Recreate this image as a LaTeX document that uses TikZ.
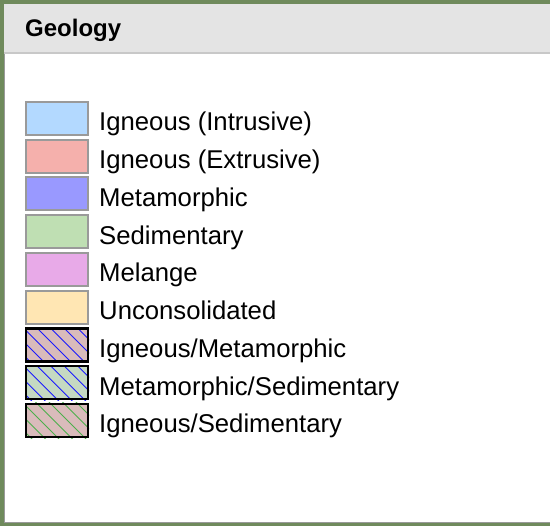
\documentclass[tikz,border=0pt]{standalone}
\usepackage{fontspec}
\setmainfont{Liberation Sans}
\definecolor{mapgreen}{HTML}{6F8A5C}
\definecolor{hdr}{HTML}{E4E4E4}
\definecolor{hdrline}{HTML}{C8C8C8}
\definecolor{swborder}{HTML}{9A9A9A}
\definecolor{cIntr}{HTML}{B3D9FF}
\definecolor{cExtr}{HTML}{F5B0AC}
\definecolor{cMeta}{HTML}{9999FF}
\definecolor{cSed}{HTML}{BFDFB3}
\definecolor{cMel}{HTML}{E8AAE8}
\definecolor{cUnc}{HTML}{FFE6B3}
\definecolor{cPink}{HTML}{D9BBBB}
\definecolor{cGrn}{HTML}{C5D9C2}
\definecolor{hBlue}{HTML}{1A1AFF}
\definecolor{hGreen}{HTML}{4CAF4C}
\usetikzlibrary{calc}
\tikzset{
  x=1pt,y=-1pt,
  swatch/.style={draw=swborder,line width=2pt,minimum width=62pt,minimum height=33pt,inner sep=0pt,anchor=north west},
  hswatch/.style={draw=black,line width=2.2pt,minimum width=62pt,minimum height=33pt,inner sep=0pt,anchor=north west},
  lbl/.style={anchor=base west,inner sep=0pt,font=\fontsize{25.7pt}{28pt}\selectfont},
}
\newcommand{\hatchbox}[4]{% name, top y, fill, line colour
  \node[hswatch,fill=#3] (#1) at (25,#2) {};
  \begin{scope}
    \clip (#1.north west) rectangle (#1.south east);
    \foreach \k in {-3,...,6} {
      \draw[#4,line width=1pt] ($(#1.north west)+(\k*13.5-4,-2)$) -- ++(40,40);
    }
  \end{scope}
  \node[hswatch] at (25,#2) {};
}
\begin{document}
\begin{tikzpicture}
\useasboundingbox (0,0) rectangle (550,526);
\fill[mapgreen] (0,0) rectangle (550,526);
\node[draw=swborder,fill=white,line width=1pt,minimum width=560pt,minimum height=518pt,anchor=north west,inner sep=0pt] (panel) at (3.5,4) {};
\fill[hdr] (4,4.5) rectangle (550,52);
\draw[hdrline,line width=2pt] (4,53) -- (550,53);
\node[anchor=base west,inner sep=0pt,font=\fontsize{24pt}{28pt}\selectfont\bfseries] (title) at (25,37) {Geology};
% solid swatches
\node[swatch,fill=cIntr] (s1) at (25,101) {};
\node[lbl] (t1) at (99,131) {Igneous (Intrusive)};
\node[swatch,fill=cExtr] (s2) at (25,138.75) {};
\node[lbl] (t2) at (99,168.75) {Igneous (Extrusive)};
\node[swatch,fill=cMeta] (s3) at (25,176.5) {};
\node[lbl] (t3) at (99,206.5) {Metamorphic};
\node[swatch,fill=cSed] (s4) at (25,214.25) {};
\node[lbl] (t4) at (99,244.25) {Sedimentary};
\node[swatch,fill=cMel] (s5) at (25,252) {};
\node[lbl] (t5) at (99,282) {Melange};
\node[swatch,fill=cUnc] (s6) at (25,289.75) {};
\node[lbl] (t6) at (99,319.75) {Unconsolidated};
% hatched swatches
\hatchbox{s7}{327.5}{cPink}{hBlue}
\node[lbl] (t7) at (99,357.5) {Igneous/Metamorphic};
\hatchbox{s8}{365.25}{cGrn}{hBlue}
\node[lbl] (t8) at (99,395.25) {Metamorphic/Sedimentary};
\hatchbox{s9}{403}{cPink}{hGreen}
\node[lbl] (t9) at (99,433) {Igneous/Sedimentary};
\end{tikzpicture}
\end{document}
